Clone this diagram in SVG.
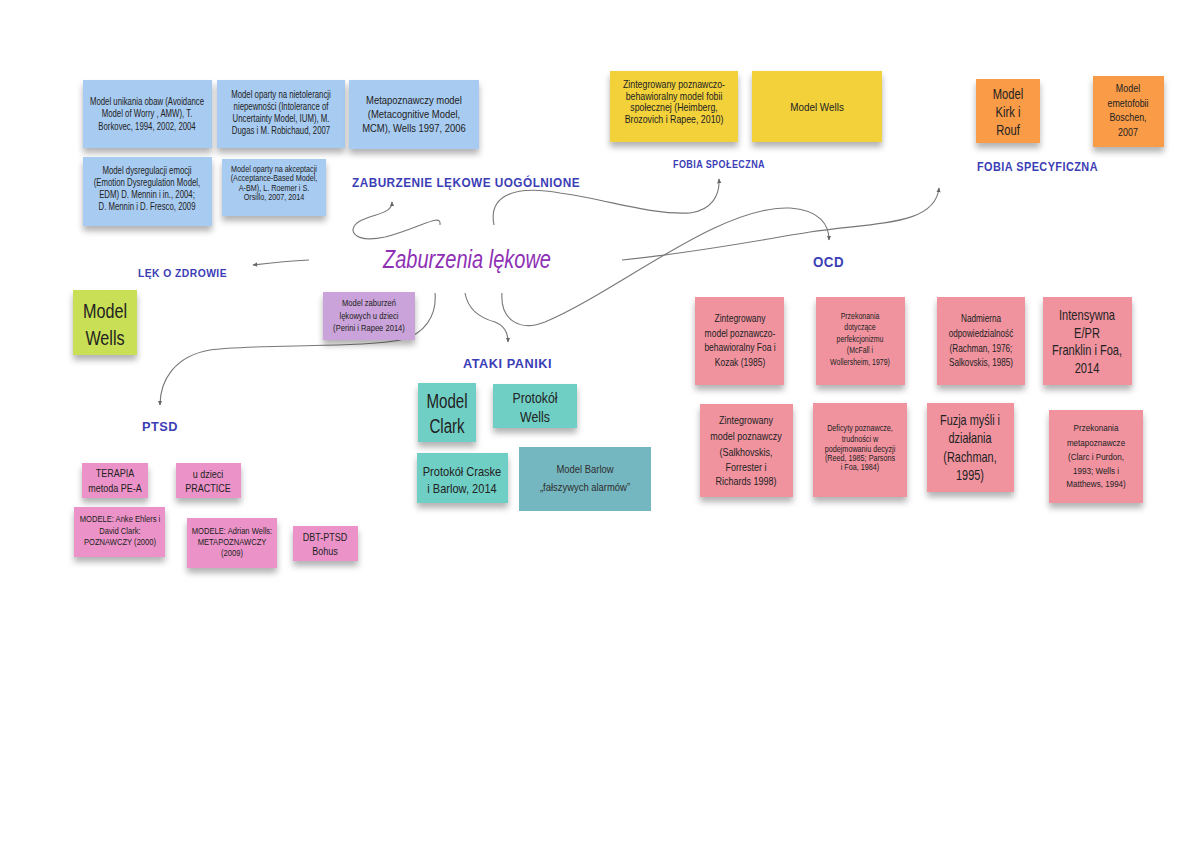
<svg xmlns="http://www.w3.org/2000/svg" width="1200" height="849" viewBox="0 0 1200 849">
<style>
.nt{font-family:'Liberation Sans',Arial,sans-serif;fill:#222;text-anchor:middle}
.lb{font-family:'Liberation Sans',Arial,sans-serif;font-weight:bold;fill:#3b3eb6;letter-spacing:0.5px}
.title{font-family:'Liberation Sans',Arial,sans-serif;font-style:italic;fill:#8e30b5}
.blue{fill:#a8cbf1}
.yel{fill:#f2d13a}
.org{fill:#f99b46}
.grn{fill:#c9df55}
.pur{fill:#c9a3d9}
.teal{fill:#70cfc5}
.dteal{fill:#75b7c0}
.pk{fill:#eb93c8}
.ocd{fill:#f0939f}
.conn path{fill:none;stroke:#777;stroke-width:1.1}
</style>
<defs>
<filter id="sh" x="-20%" y="-20%" width="140%" height="160%">
<feDropShadow dx="0" dy="5" stdDeviation="3" flood-color="#000" flood-opacity="0.3"/>
</filter>
<marker id="ar" viewBox="0 0 10 10" refX="8" refY="5" markerWidth="5" markerHeight="5" orient="auto-start-reverse">
<path d="M0,1 L9,5 L0,9 z" fill="#666"/>
</marker>
</defs>
<rect width="1200" height="849" fill="#ffffff"/>

<g id="connectors" class="conn">
<path d="M309,260 C290,261 270,263 253,265" marker-end="url(#ar)"/>
<path d="M440,225 C442,212 420,228 385,237 C352,244 345,228 362,220 C378,213 392,213 392,202" marker-end="url(#ar)"/>
<path d="M494,225 C488,195 515,185 560,193 C610,200 650,215 690,213 C712,210 720,195 719,179" marker-end="url(#ar)"/>
<path d="M502,293 C500,320 520,332 545,322 C620,290 720,205 790,208 C820,210 829,225 829,240" marker-end="url(#ar)"/>
<path d="M622,260 C700,252 760,240 810,232 C880,222 935,225 939,188" marker-end="url(#ar)"/>
<path d="M465,293 C468,310 480,318 495,322 C505,326 508,334 508,342" marker-end="url(#ar)"/>
<path d="M435,293 C437,315 425,335 400,340 C360,348 250,344 210,350 C175,356 160,380 160,405" marker-end="url(#ar)"/>
</g>

<g id="title"><text class="title" x="383" y="268" font-size="25" textLength="168" lengthAdjust="spacingAndGlyphs">Zaburzenia lękowe</text></g>

<g id="lbl-gad"><text class="lb" x="352" y="187" font-size="12.5" textLength="228" lengthAdjust="spacingAndGlyphs">ZABURZENIE LĘKOWE UOGÓLNIONE</text></g>
<g id="lbl-zdrowie"><text class="lb" x="138" y="277" font-size="11.5" textLength="89" lengthAdjust="spacingAndGlyphs">LĘK O ZDROWIE</text></g>
<g id="lbl-fs"><text class="lb" x="673" y="168" font-size="10.5" textLength="92" lengthAdjust="spacingAndGlyphs">FOBIA SPOŁECZNA</text></g>
<g id="lbl-fsp"><text class="lb" x="977" y="171" font-size="12" textLength="121" lengthAdjust="spacingAndGlyphs">FOBIA SPECYFICZNA</text></g>
<g id="lbl-ocd"><text class="lb" x="813" y="267" font-size="14" textLength="31" lengthAdjust="spacingAndGlyphs">OCD</text></g>
<g id="lbl-panika"><text class="lb" x="463" y="368" font-size="12" textLength="89" lengthAdjust="spacingAndGlyphs">ATAKI PANIKI</text></g>
<g id="lbl-ptsd"><text class="lb" x="142" y="431" font-size="13" textLength="36" lengthAdjust="spacingAndGlyphs">PTSD</text></g>

<!-- Blue notes -->
<g id="n-amw"><rect class="blue" x="83" y="80" width="129" height="68" filter="url(#sh)"/>
<text class="nt" transform="translate(147,0) scale(0.78,1)" font-size="10"><tspan x="0" y="105">Model unikania obaw (Avoidance</tspan><tspan x="0" y="117.5">Model of Worry , AMW), T.</tspan><tspan x="0" y="130">Borkovec, 1994, 2002, 2004</tspan></text></g>
<g id="n-ium"><rect class="blue" x="217" y="80" width="128" height="68" filter="url(#sh)"/>
<text class="nt" transform="translate(281,0) scale(0.78,1)" font-size="10"><tspan x="0" y="98">Model oparty na nietolerancji</tspan><tspan x="0" y="110">niepewności (Intolerance of</tspan><tspan x="0" y="122">Uncertainty Model, IUM), M.</tspan><tspan x="0" y="134">Dugas i M. Robichaud, 2007</tspan></text></g>
<g id="n-mcm"><rect class="blue" x="349" y="80" width="130" height="69" filter="url(#sh)"/>
<text class="nt" transform="translate(414,0) scale(0.9,1)" font-size="10.5"><tspan x="0" y="104">Metapoznawczy model</tspan><tspan x="0" y="118">(Metacognitive Model,</tspan><tspan x="0" y="132">MCM), Wells 1997, 2006</tspan></text></g>
<g id="n-edm"><rect class="blue" x="83" y="157" width="129" height="69" filter="url(#sh)"/>
<text class="nt" transform="translate(147,0) scale(0.78,1)" font-size="10"><tspan x="0" y="174">Model dysregulacji emocji</tspan><tspan x="0" y="186">(Emotion Dysregulation Model,</tspan><tspan x="0" y="198">EDM) D. Mennin i in., 2004;</tspan><tspan x="0" y="210">D. Mennin i D. Fresco, 2009</tspan></text></g>
<g id="n-abm"><rect class="blue" x="222" y="159" width="104" height="57" filter="url(#sh)"/>
<text class="nt" transform="translate(274,0) scale(0.85,1)" font-size="8.5"><tspan x="0" y="172">Model oparty na akceptacji</tspan><tspan x="0" y="181.5">(Acceptance-Based Model,</tspan><tspan x="0" y="191">A-BM), L. Roemer i S.</tspan><tspan x="0" y="200.5">Orsillo, 2007, 2014</tspan></text></g>

<!-- Yellow notes -->
<g id="n-heimberg"><rect class="yel" x="610" y="71" width="128" height="71" filter="url(#sh)"/>
<text class="nt" transform="translate(674,0) scale(0.88,1)" font-size="10"><tspan x="0" y="88.5">Zintegrowany poznawczo-</tspan><tspan x="0" y="100">behawioralny model fobii</tspan><tspan x="0" y="111.5">społecznej (Heimberg,</tspan><tspan x="0" y="123">Brozovich i Rapee, 2010)</tspan></text></g>
<g id="n-wells-fs"><rect class="yel" x="752" y="71" width="130" height="71" filter="url(#sh)"/>
<text class="nt" transform="translate(817,0) scale(0.9,1)" font-size="11"><tspan x="0" y="111">Model Wells</tspan></text></g>

<!-- Orange notes -->
<g id="n-kirk"><rect class="org" x="976" y="79" width="64" height="64" filter="url(#sh)"/>
<text class="nt" transform="translate(1008,0) scale(0.8,1)" font-size="14"><tspan x="0" y="99">Model</tspan><tspan x="0" y="117">Kirk i</tspan><tspan x="0" y="135">Rouf</tspan></text></g>
<g id="n-boschen"><rect class="org" x="1093" y="76" width="71" height="71" filter="url(#sh)"/>
<text class="nt" transform="translate(1128,0) scale(0.85,1)" font-size="10.5"><tspan x="0" y="92.5">Model</tspan><tspan x="0" y="107.5">emetofobii</tspan><tspan x="0" y="121.5">Boschen,</tspan><tspan x="0" y="136.5">2007</tspan></text></g>

<!-- Green -->
<g id="n-wells-zdrowie"><rect class="grn" x="73" y="290" width="64" height="65" filter="url(#sh)"/>
<text class="nt" transform="translate(105,0) scale(0.77,1)" font-size="21"><tspan x="0" y="318">Model</tspan><tspan x="0" y="345">Wells</tspan></text></g>

<!-- Purple -->
<g id="n-perini"><rect class="pur" x="323" y="292" width="92" height="48" filter="url(#sh)"/>
<text class="nt" transform="translate(369,0) scale(0.8,1)" font-size="9.5"><tspan x="0" y="306">Model zaburzeń</tspan><tspan x="0" y="319">lękowych u dzieci</tspan><tspan x="0" y="331">(Perini i Rapee 2014)</tspan></text></g>

<!-- Teal -->
<g id="n-clark"><rect class="teal" x="418" y="383" width="58" height="59" filter="url(#sh)"/>
<text class="nt" transform="translate(447,0) scale(0.72,1)" font-size="21"><tspan x="0" y="408">Model</tspan><tspan x="0" y="433">Clark</tspan></text></g>
<g id="n-protwells"><rect class="teal" x="493" y="384" width="84" height="44" filter="url(#sh)"/>
<text class="nt" transform="translate(535,0) scale(0.88,1)" font-size="14"><tspan x="0" y="403">Protokół</tspan><tspan x="0" y="422">Wells</tspan></text></g>
<g id="n-craske"><rect class="teal" x="417" y="453" width="91" height="50" filter="url(#sh)"/>
<text class="nt" transform="translate(462,0) scale(0.85,1)" font-size="13"><tspan x="0" y="476">Protokół Craske</tspan><tspan x="0" y="493">i Barlow, 2014</tspan></text></g>
<g id="n-barlow"><rect class="dteal" x="519" y="447" width="132" height="64"/>
<text class="nt" transform="translate(585,0) scale(0.9,1)" font-size="10.5" style="fill:#2e2e2e"><tspan x="0" y="473">Model Barlow</tspan><tspan x="0" y="491">„fałszywych alarmów”</tspan></text></g>

<!-- PTSD pink -->
<g id="n-pea"><rect class="pk" x="82" y="463" width="66" height="35" filter="url(#sh)"/>
<text class="nt" transform="translate(115,0) scale(0.82,1)" font-size="11"><tspan x="0" y="477">TERAPIA</tspan><tspan x="0" y="492">metoda PE-A</tspan></text></g>
<g id="n-practice"><rect class="pk" x="176" y="463" width="65" height="35" filter="url(#sh)"/>
<text class="nt" transform="translate(208,0) scale(0.82,1)" font-size="11"><tspan x="0" y="478">u dzieci</tspan><tspan x="0" y="492">PRACTICE</tspan></text></g>
<g id="n-ehlers"><rect class="pk" x="74" y="507" width="91" height="50" filter="url(#sh)"/>
<text class="nt" transform="translate(120,0) scale(0.8,1)" font-size="9.5"><tspan x="0" y="522">MODELE: Anke Ehlers i</tspan><tspan x="0" y="534">David Clark:</tspan><tspan x="0" y="545.5">POZNAWCZY (2000)</tspan></text></g>
<g id="n-adrian"><rect class="pk" x="187" y="518" width="90" height="50" filter="url(#sh)"/>
<text class="nt" transform="translate(232,0) scale(0.8,1)" font-size="9.5"><tspan x="0" y="534">MODELE: Adrian Wells:</tspan><tspan x="0" y="545">METAPOZNAWCZY</tspan><tspan x="0" y="556">(2009)</tspan></text></g>
<g id="n-dbt"><rect class="pk" x="293" y="526" width="65" height="35" filter="url(#sh)"/>
<text class="nt" transform="translate(325,0) scale(0.82,1)" font-size="11"><tspan x="0" y="541">DBT-PTSD</tspan><tspan x="0" y="555">Bohus</tspan></text></g>

<!-- OCD pink -->
<g id="n-foa"><rect class="ocd" x="695" y="297" width="89" height="88" filter="url(#sh)"/>
<text class="nt" transform="translate(740,0) scale(0.85,1)" font-size="10"><tspan x="0" y="322.5">Zintegrowany</tspan><tspan x="0" y="337">model poznawczo-</tspan><tspan x="0" y="351.5">behawioralny Foa i</tspan><tspan x="0" y="366">Kozak (1985)</tspan></text></g>
<g id="n-mcfall"><rect class="ocd" x="816" y="297" width="89" height="88" filter="url(#sh)"/>
<text class="nt" transform="translate(860,0) scale(0.82,1)" font-size="8.5"><tspan x="0" y="319">Przekonania</tspan><tspan x="0" y="330.5">dotyczące</tspan><tspan x="0" y="342">perfekcjonizmu</tspan><tspan x="0" y="353.5">(McFall i</tspan><tspan x="0" y="365">Wollersheim, 1979)</tspan></text></g>
<g id="n-rachman"><rect class="ocd" x="937" y="297" width="88" height="88" filter="url(#sh)"/>
<text class="nt" transform="translate(981,0) scale(0.82,1)" font-size="10"><tspan x="0" y="322.5">Nadmierna</tspan><tspan x="0" y="337.5">odpowiedzialność</tspan><tspan x="0" y="352">(Rachman, 1976;</tspan><tspan x="0" y="366">Salkovskis, 1985)</tspan></text></g>
<g id="n-franklin"><rect class="ocd" x="1043" y="297" width="89" height="88" filter="url(#sh)"/>
<text class="nt" transform="translate(1087,0) scale(0.79,1)" font-size="14"><tspan x="0" y="320">Intensywna</tspan><tspan x="0" y="338">E/PR</tspan><tspan x="0" y="355">Franklin i Foa,</tspan><tspan x="0" y="373">2014</tspan></text></g>
<g id="n-salk"><rect class="ocd" x="700" y="404" width="93" height="93" filter="url(#sh)"/>
<text class="nt" transform="translate(746,0) scale(0.82,1)" font-size="11"><tspan x="0" y="424">Zintegrowany</tspan><tspan x="0" y="440">model poznawczy</tspan><tspan x="0" y="456">(Salkhovskis,</tspan><tspan x="0" y="471">Forrester i</tspan><tspan x="0" y="485">Richards 1998)</tspan></text></g>
<g id="n-reed"><rect class="ocd" x="813" y="403" width="94" height="94" filter="url(#sh)"/>
<text class="nt" transform="translate(860,0) scale(0.85,1)" font-size="8.5"><tspan x="0" y="431">Deficyty poznawcze,</tspan><tspan x="0" y="442">trudności w</tspan><tspan x="0" y="452">podejmowaniu decyzji</tspan><tspan x="0" y="461">(Reed, 1985; Parsons</tspan><tspan x="0" y="470">i Foa, 1984)</tspan></text></g>
<g id="n-fuzja"><rect class="ocd" x="927" y="403" width="87" height="89" filter="url(#sh)"/>
<text class="nt" transform="translate(970,0) scale(0.78,1)" font-size="14"><tspan x="0" y="425">Fuzja myśli i</tspan><tspan x="0" y="443">działania</tspan><tspan x="0" y="462">(Rachman,</tspan><tspan x="0" y="480">1995)</tspan></text></g>
<g id="n-clarc"><rect class="ocd" x="1049" y="410" width="94" height="93" filter="url(#sh)"/>
<text class="nt" transform="translate(1096,0) scale(0.85,1)" font-size="9.5"><tspan x="0" y="431">Przekonania</tspan><tspan x="0" y="446">metapoznawcze</tspan><tspan x="0" y="460">(Clarc i Purdon,</tspan><tspan x="0" y="474">1993; Wells i</tspan><tspan x="0" y="487">Matthews, 1994)</tspan></text></g>
</svg>
